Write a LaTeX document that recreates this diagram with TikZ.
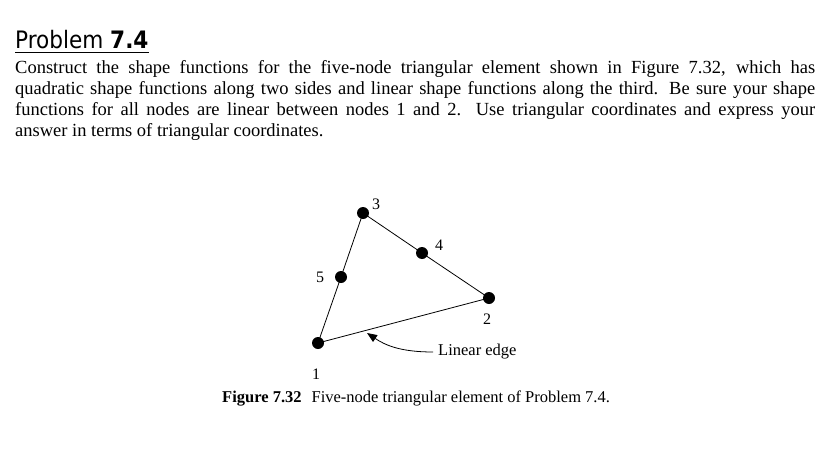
\documentclass[tikz,border=0pt]{standalone}
\usepackage{fontspec}
\setmainfont{Liberation Serif}
\newfontfamily\headfont{DejaVu Sans Condensed}
\usetikzlibrary{arrows.meta}
\tikzset{
  fenode/.style={circle,fill=black,inner sep=0pt,minimum size=12pt},
  numlabel/.style={font=\fontsize{16}{18}\selectfont,inner sep=1pt}
}
\begin{document}
\begin{tikzpicture}[x=1pt,y=-1pt]
\useasboundingbox (0,0) rectangle (831,450);

%%% HEADER %%%
\node[anchor=base west,inner sep=0pt,font=\headfont\fontsize{24}{27}\selectfont] (head) at (15,48) {Problem \textbf{7.4}};
\draw[line width=1pt] ([yshift=-4pt]head.base west) -- ([yshift=-4pt]head.base east);
\node[anchor=north west,inner sep=0pt,text width=800pt,align=justify,font=\fontsize{18.5}{21}\selectfont] (text) at (15,60)
{Construct the shape functions for the five-node triangular element shown in Figure 7.32, which has\linebreak quadratic shape functions along two sides and linear shape functions along the third. Be sure your shape\linebreak functions for all nodes are linear between nodes 1 and 2. Use triangular coordinates and express your\linebreak answer in terms of triangular coordinates.};

%%% ELEMENT %%%
\node[fenode] (n1) at (318,343) {};
\node[fenode] (n2) at (489,298) {};
\node[fenode] (n3) at (363,213) {};
\node[fenode] (n4) at (422,253) {};
\node[fenode] (n5) at (341,277) {};
\draw[line width=0.8pt] (n1.center) -- (n2.center) -- (n4.center) -- (n3.center) -- (n5.center) -- cycle;

\node[numlabel] (l1) at (316,374) {1};
\node[numlabel] (l2) at (487,319) {2};
\node[numlabel] (l3) at (376,204) {3};
\node[numlabel] (l4) at (439,245) {4};
\node[numlabel] (l5) at (320,277) {5};

%%% LINEAR EDGE %%%
\coordinate (edge) at (367,333);
\node[anchor=west,inner sep=5pt,font=\fontsize{16.5}{18}\selectfont] (lin) at (433,352) {Linear edge};
\draw[line width=0.8pt,-{Triangle[length=10pt,width=8pt]}] (lin.west) .. controls (400,352) and (385,345) .. (edge);

%%% CAPTION %%%
\node[anchor=base west,inner sep=0pt,font=\fontsize{16.5}{18}\selectfont] (cap) at (222,402)
{\textbf{Figure 7.32}\hspace{10pt}Five-node triangular element of Problem 7.4.};
\end{tikzpicture}
\end{document}
